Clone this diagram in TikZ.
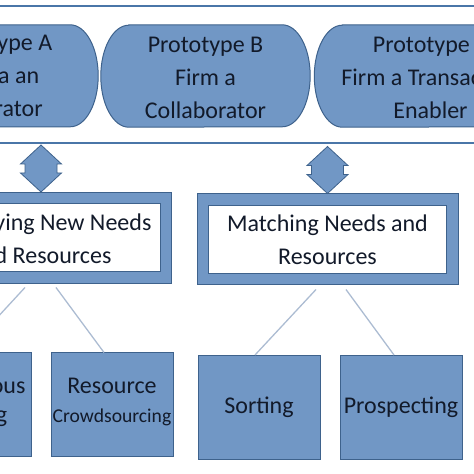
\documentclass[tikz,border=0pt]{standalone}
\usepackage{fontspec}
\setmainfont{Carlito}
\usetikzlibrary{calc,backgrounds}
\definecolor{boxblue}{RGB}{113,151,197}
\definecolor{edgeblue}{RGB}{62,98,140}
\definecolor{frameblue}{RGB}{74,118,168}
\definecolor{linkblue}{RGB}{172,188,210}
\definecolor{txt}{RGB}{18,26,42}
\newcommand{\liftlines}[2]{\raisebox{#1}[\height][\depth]{\begin{tabular}{@{}c@{}}#2\end{tabular}}}
\begin{document}
\begin{tikzpicture}[x=1pt,y=1pt,
  font=\fontsize{24}{33}\selectfont, text=txt,
  toptext/.style={minimum width=#1, minimum height=102pt, inner sep=0pt, align=center},
  stad/.style={fill=boxblue, draw=edgeblue, line width=1pt},
  frameline/.style={draw=frameblue, line width=2.2pt},
  midbox/.style={fill=white, draw=edgeblue, line width=1pt, minimum width=238pt,
    minimum height=68pt, inner sep=0pt, align=center},
  midframe/.style={fill=boxblue, draw=edgeblue, line width=1pt},
  botbox/.style={fill=boxblue, draw=edgeblue, line width=1pt, minimum width=122pt,
    minimum height=104pt, inner sep=0pt, align=center, font=\fontsize{24}{29}\selectfont},
  bidir/.style={fill=boxblue, draw=edgeblue, line width=0.8pt, line join=miter},
  link/.style={draw=linkblue, line width=1.3pt}]
\useasboundingbox (0,0) rectangle (474,474);
\clip (0,0) rectangle (474,474);

% frame lines
\draw[frameline] (-5,468) -- (479,468);
\draw[frameline] (-5,331) -- (479,331);

% top prototypes
\node[toptext=208pt] (A) at (-6,396) {Prototype A\\Firm a an\hspace{14pt}\\Integrator};
\node[toptext=209pt] (B) at (205.5,396) {Prototype B\\Firm a\\Collaborator};
\node[toptext=232pt] (C) at (430.5,396) {Prototype C\\Firm a Transaction\\Enabler};
\begin{scope}[on background layer]
\foreach \n in {A,B,C}
  \draw[stad] ($(\n.north west)+(28,2)$) -- ($(\n.north east)+(-28,2)$)
    arc[start angle=90,end angle=-90,x radius=28,y radius=51]
    -- ($(\n.south west)+(28,2)$)
    arc[start angle=270,end angle=90,x radius=28,y radius=51] -- cycle;
\end{scope}

% middle boxes
\node[midbox] (L) at (41,236) {\liftlines{-2pt}{Identifying New Needs\\and Resources}};
\node[midbox] (M) at (327.5,234.5) {\liftlines{-2pt}{Matching Needs and\\Resources}};
\begin{scope}[on background layer]
\foreach \n in {L,M}
  \draw[midframe] ($(\n.south west)+(-11,-11)$) rectangle ($(\n.north east)+(11,11)$);
\end{scope}

% double arrows
\foreach \n in {L,M}{
  \coordinate (\n tip) at ($(\n.north)+(0,11.5)$);
  \draw[bidir] (\n tip) -- ++(-20.5,19) -- ++(4.5,0) -- ++(0,9) -- ++(-4.5,0)
    -- ++(20.5,19) -- ++(20.5,-19) -- ++(-4.5,0) -- ++(0,-9) -- ++(4.5,0) -- cycle;
}

% bottom boxes
\node[botbox] (CS) at (-30,69) {\liftlines{3pt}{Continuous\\Sensing}};
\node[botbox] (RC) at (112,69) {\liftlines{3pt}{Resource\\{\fontsize{19.6}{24}\selectfont Crowdsourcing}}};
\node[botbox] (SO) at (259,66.5) {Sorting};
\node[botbox] (PR) at (401,66.5) {Prospecting};

% connectors
\draw[link] ($(L.south)+(-16,-15)$) -- ($(CS.north)+(-5,0)$);
\draw[link] ($(L.south)+(15,-15)$) -- ($(RC.north)+(-8,0)$);
\draw[link] ($(M.south)+(-11.5,-15.5)$) -- ($(SO.north)+(-4,0)$);
\draw[link] ($(M.south)+(18.5,-15.5)$) -- ($(PR.north)+(-7,0)$);
\end{tikzpicture}
\end{document}
